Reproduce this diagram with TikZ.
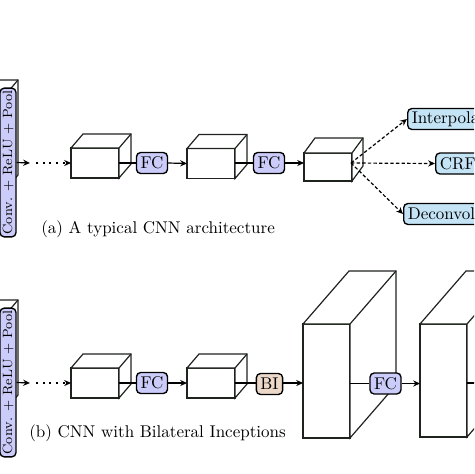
\documentclass[tikz,border=0pt]{standalone}
\usetikzlibrary{calc,arrows.meta}
\definecolor{fcblue}{RGB}{204,204,250}
\definecolor{outblue}{RGB}{196,228,246}
\definecolor{bibeige}{RGB}{236,216,200}
\definecolor{edge}{RGB}{30,35,30}
\def\pxu{0.588pt}
\newcommand\cuboid[2]{%
  \filldraw[boxline] (#1.north west) -- ++(#2) -- ($(#1.north east)+(#2)$) -- ($(#1.south east)+(#2)$) -- (#1.south east) -- (#1.north east) -- cycle;
  \draw[boxline] (#1.north east) -- ++(#2);}
\begin{document}
\begin{tikzpicture}[x=\pxu, y=-\pxu,
  boxline/.style={draw=edge, fill=white, line width=0.7pt},
  face/.style={boxline, inner sep=0pt, outer sep=0pt},
  lbl/.style={draw=black, rounded corners=2.5pt, line width=0.8pt, inner xsep=2.4pt, inner ysep=0pt, minimum height=21*\pxu},
  fcnode/.style={lbl, fill=fcblue},
  outnode/.style={lbl, fill=outblue, anchor=west},
  binode/.style={lbl, fill=bibeige},
  convnode/.style={draw=black, fill=fcblue, rounded corners=2.5pt, line width=0.8pt, rotate=90, inner xsep=1.5pt, inner ysep=0pt, minimum height=16*\pxu, font=\fontsize{7.9}{9}\selectfont},
  conn/.style={line width=0.7pt, draw=black, -{Stealth[length=4pt,width=3.6pt]}},
  plain/.style={line width=0.7pt, draw=black},
  dotline/.style={conn, dash pattern=on 1.3pt off 2.6pt},
  dashline/.style={conn, dash pattern=on 2pt off 1.3pt},
  captext/.style={anchor=west, inner sep=0pt}
]
\useasboundingbox (0,0) rectangle (474,474);
\clip (0,0) rectangle (474,474);

% ---------- (a) ----------
\node[face, minimum width=47*\pxu, minimum height=95*\pxu] (cba) at (-16.5,140.5) {};
\cuboid{cba}{11,-13}
\node[convnode] (na) at (8,162.5) {Conv. + ReLU + Pool};

\node[face, minimum width=48*\pxu, minimum height=30*\pxu] (a1) at (95,163) {};
\cuboid{a1}{12,-14}
\node[fcnode] (fa1) at (152,163) {FC};
\node[face, minimum width=48*\pxu, minimum height=30*\pxu] (a2) at (211,163.5) {};
\cuboid{a2}{12,-14}
\node[fcnode] (fa2) at (269,163) {FC};
\node[face, minimum width=48*\pxu, minimum height=28*\pxu] (a3) at (328,167) {};
\cuboid{a3}{11,-15}

\coordinate (sa) at (30,163);
\coordinate (da) at (36,163);
\draw[conn] (na.south) -- (sa);
\draw[dotline] (da) -- (a1.west);
\draw[plain] (a1.east) -- (fa1.west);
\draw[conn] (fa1.east) -- (a2.west);
\draw[plain] (a2.east |- fa2.west) -- (fa2.west);
\draw[conn] (fa2.east) -- (a3.west |- fa2.east);

\node[outnode] (ip) at (407,119) {Interpolation};
\node[outnode] (crf) at (435,163.5) {CRF};
\node[outnode] (dc) at (403,214) {Deconvolution};
\coordinate (oa) at (351,163);
\draw[dashline] (oa) -- (ip.west);
\draw[dashline] (oa) -- (crf.west);
\draw[dashline] (oa) -- (dc.west);

\node[captext] (capa) at (41,229) {(a) A typical CNN architecture};

% ---------- (b) ----------
\node[face, minimum width=47*\pxu, minimum height=95*\pxu] (cbb) at (-16.5,360.5) {};
\cuboid{cbb}{11,-13}
\node[convnode] (nb) at (8,382.5) {Conv. + ReLU + Pool};

\node[face, minimum width=48*\pxu, minimum height=30*\pxu] (b1) at (95,383) {};
\cuboid{b1}{12,-14}
\node[fcnode] (fb1) at (152,383) {FC};
\node[face, minimum width=48*\pxu, minimum height=30*\pxu] (b2) at (211,383) {};
\cuboid{b2}{12,-14}
\node[binode] (bi) at (269.5,384) {BI};
\node[face, minimum width=47*\pxu, minimum height=114*\pxu] (t1) at (326.5,381) {};
\cuboid{t1}{46,-53}
\node[face, minimum width=47*\pxu, minimum height=113*\pxu] (t2) at (443.5,380.5) {};
\cuboid{t2}{46,-53}
\node[fcnode] (fb3) at (385.5,383.5) {FC};

\coordinate (sb) at (30,383);
\coordinate (db) at (36,383);
\coordinate (eb) at (490,383);
\draw[conn] (nb.south) -- (sb);
\draw[dotline] (db) -- (b1.west);
\draw[plain] (b1.east) -- (fb1.west);
\draw[conn] (fb1.east) -- (b2.west);
\draw[plain] (b2.east) -- (bi.west |- b2.east);
\draw[conn] (bi.east |- b2.east) -- (t1.west |- b2.east);
\draw[plain] (t1.east |- fb3.west) -- (fb3.west);
\draw[conn] (fb3.east) -- (t2.west |- fb3.east);
\draw[plain] (t2.east |- eb) -- (eb);

\node[captext] (capb) at (29,433) {(b) CNN with Bilateral Inceptions};
\end{tikzpicture}
\end{document}
